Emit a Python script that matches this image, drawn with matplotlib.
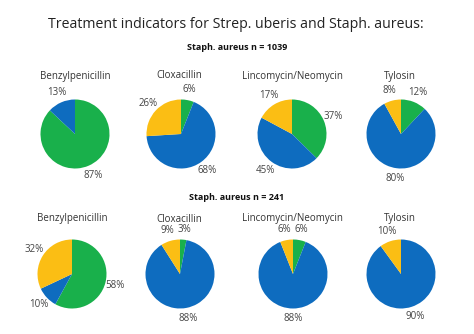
import math
import matplotlib
matplotlib.use("Agg")
import matplotlib.pyplot as plt

W, H = 474, 334
DPI = 100

main_title = "Treatment indicators for Strep. uberis and Staph. aureus:"
row_titles = ["Staph. aureus n = 1039", "Staph. aureus n = 241"]
drugs = ["Benzylpenicillin", "Cloxacillin", "Lincomycin/Neomycin", "Tylosin"]

# slice order (clockwise from 12 o'clock): green, blue, yellow
green_top = [87, 6, 37, 12]
blue_top = [13, 68, 45, 80]
yellow_top = [0, 26, 17, 8]

green_bot = [58, 3, 6, 0]
blue_bot = [10, 88, 88, 90]
yellow_bot = [32, 9, 6, 10]

colors = ["#19b04b", "#0e6cbf", "#fbbe14"]

# layout (pixels)
centers_x = [[75, 181, 292, 401], [72, 180, 293, 401]]
centers_y = [134, 274]
radius = [34.5, 34.5]
title_y = [76, 219]
title_x = [[75, 179, 292, 400], [72, 179, 292, 400]]
row_title_y = [48, 198]

plt.rcParams["font.family"] = ["Open Sans", "DejaVu Sans"]

fig = plt.figure(figsize=(W / DPI, H / DPI), dpi=DPI)
fig.patch.set_facecolor("white")

fig.text(236 / W, 1 - 25 / H, main_title, ha="center", va="center",
         fontsize=10.2, color="#222222")

rows = [(green_top, blue_top, yellow_top), (green_bot, blue_bot, yellow_bot)]
L = 1.7
for r, (g, b, y) in enumerate(rows):
    fig.text(237 / W, 1 - row_title_y[r] / H, row_titles[r], ha="center",
             va="center", fontsize=6.5, fontweight="bold", color="#111111")
    for i in range(4):
        vals = [g[i], b[i], y[i]]
        rad = radius[r]
        size = 2 * rad * L
        cx, cy = centers_x[r][i], centers_y[r]
        ax = fig.add_axes([(cx - size / 2) / W, 1 - (cy + size / 2) / H,
                           size / W, size / H])
        wedges, _ = ax.pie(vals, colors=colors, startangle=90,
                           counterclock=False, radius=1,
                           wedgeprops=dict(linewidth=0))
        total = sum(vals)
        start = 90.0
        for v in vals:
            if v <= 0:
                continue
            span = 360.0 * v / total
            mid = math.radians(start - span / 2)
            d = 1.3
            ax.text(d * math.cos(mid), d * math.sin(mid), f"{v}%",
                    ha="center", va="center", fontsize=7, color="#444444")
            start -= span
        ax.set_xlim(-L, L)
        ax.set_ylim(-L, L)
        ax.set_aspect("equal")
        ax.axis("off")
        fig.text(title_x[r][i] / W, 1 - title_y[r] / H, drugs[i],
                 ha="center", va="center", fontsize=7, color="#333333")

fig.savefig("out.png", dpi=DPI, facecolor="white")
